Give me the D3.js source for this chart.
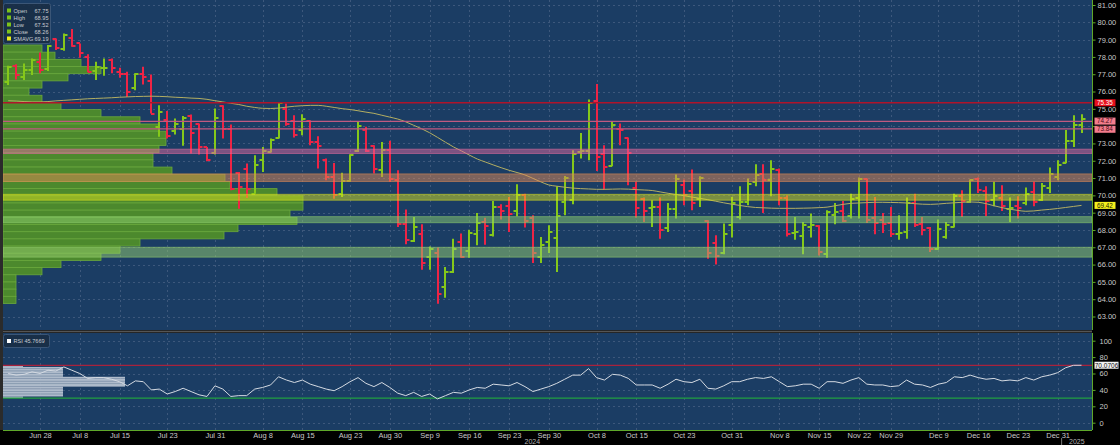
<!DOCTYPE html>
<meta charset="utf-8">
<style>
    body { margin: 0; background: #000; }
    svg { display: block; font-family: "Liberation Sans", Arial, sans-serif; }
    .grid line { stroke: #5a7090; stroke-opacity: 0.55; stroke-dasharray: 2,3; }
    .axis text { fill: #c8c8c8; font-size: 7.5px; }
    .axis path, .axis line { stroke: #5fa82a; }
    .legend text { fill: #c8ccd2; font-size: 5.6px; }
</style>
<svg width="1120" height="445"></svg>
<script src="https://d3js.org/d3.v7.min.js"></script>
<script>

    // date, open, high, low, close
    var ohlc = [
        ["2024-06-24", 76.56, 77.49, 76.37, 77.43], ["2024-06-25", 77.49, 77.57, 76.70, 76.95],
        ["2024-06-26", 76.85, 77.62, 76.66, 77.24], ["2024-06-27", 77.24, 77.91, 76.95, 77.82],
        ["2024-06-28", 77.68, 78.26, 77.05, 77.24], ["2024-07-01", 77.30, 78.69, 77.18, 78.64],
        ["2024-07-02", 79.03, 79.07, 78.40, 78.53], ["2024-07-03", 78.44, 79.36, 78.36, 79.26],
        ["2024-07-05", 79.11, 79.61, 78.59, 78.64], ["2024-07-08", 78.78, 78.78, 77.95, 78.20],
        ["2024-07-09", 77.97, 78.15, 77.11, 77.14], ["2024-07-10", 77.18, 77.72, 76.66, 77.43],
        ["2024-07-11", 77.34, 77.91, 76.91, 77.37], ["2024-07-12", 77.82, 77.91, 77.05, 77.34],
        ["2024-07-15", 77.10, 77.37, 76.79, 76.99], ["2024-07-16", 76.99, 77.14, 75.69, 75.98],
        ["2024-07-17", 76.18, 77.05, 76.08, 76.99], ["2024-07-18", 76.99, 77.43, 76.41, 76.85],
        ["2024-07-19", 76.60, 76.99, 74.73, 74.73], ["2024-07-22", 73.96, 75.21, 73.38, 74.79],
        ["2024-07-23", 74.34, 74.87, 73.29, 73.44], ["2024-07-24", 73.71, 74.44, 73.52, 74.10],
        ["2024-07-25", 73.82, 74.59, 72.86, 74.48], ["2024-07-26", 74.59, 74.67, 72.42, 73.63],
        ["2024-07-29", 74.10, 74.15, 72.36, 72.80], ["2024-07-30", 72.78, 72.80, 71.97, 72.03],
        ["2024-07-31", 72.42, 75.02, 72.36, 74.48], ["2024-08-01", 75.17, 75.21, 73.29, 73.82],
        ["2024-08-02", 73.82, 74.10, 70.30, 70.35], ["2024-08-05", 71.30, 71.35, 69.23, 70.49],
        ["2024-08-06", 71.51, 71.84, 69.85, 70.35], ["2024-08-07", 70.10, 72.32, 70.10, 71.78],
        ["2024-08-08", 72.03, 72.80, 71.35, 72.55], ["2024-08-09", 72.51, 73.29, 72.48, 73.19],
        ["2024-08-12", 73.30, 75.35, 73.29, 75.31], ["2024-08-13", 74.97, 75.31, 74.02, 74.11],
        ["2024-08-14", 74.30, 74.63, 73.34, 73.48], ["2024-08-15", 73.77, 74.69, 73.48, 74.39],
        ["2024-08-16", 74.30, 74.34, 72.90, 73.09], ["2024-08-19", 73.09, 73.42, 71.55, 72.84],
        ["2024-08-20", 72.03, 72.13, 70.87, 71.06], ["2024-08-21", 71.06, 71.87, 69.81, 70.00],
        ["2024-08-22", 70.06, 71.30, 69.91, 70.84], ["2024-08-23", 70.84, 72.38, 70.78, 72.32],
        ["2024-08-26", 72.57, 74.25, 72.51, 74.00], ["2024-08-27", 73.80, 73.96, 72.51, 72.57],
        ["2024-08-28", 72.84, 72.90, 71.26, 71.55], ["2024-08-29", 71.45, 73.09, 71.06, 72.65],
        ["2024-08-30", 72.65, 73.15, 70.78, 70.97], ["2024-09-03", 70.91, 71.45, 68.17, 68.33],
        ["2024-09-04", 68.33, 69.18, 67.17, 67.44], ["2024-09-05", 67.36, 68.75, 67.30, 68.17],
        ["2024-09-06", 67.75, 68.33, 65.70, 66.09], ["2024-09-09", 66.43, 67.05, 65.70, 66.92],
        ["2024-09-10", 66.67, 66.98, 63.74, 64.28], ["2024-09-11", 64.70, 65.86, 64.08, 65.57],
        ["2024-09-12", 65.57, 67.50, 65.51, 66.92], ["2024-09-13", 67.30, 67.79, 66.40, 66.43],
        ["2024-09-16", 66.78, 68.02, 66.40, 67.82], ["2024-09-17", 67.79, 68.98, 67.11, 68.40],
        ["2024-09-18", 68.46, 68.71, 67.15, 68.21], ["2024-09-19", 67.69, 69.67, 67.63, 69.33],
        ["2024-09-20", 69.33, 69.48, 68.60, 69.10], ["2024-09-23", 69.37, 69.91, 67.88, 68.95],
        ["2024-09-24", 69.10, 70.64, 68.79, 70.00], ["2024-09-25", 70.00, 70.10, 68.14, 68.52],
        ["2024-09-26", 68.71, 68.85, 66.09, 66.67], ["2024-09-27", 66.43, 67.59, 66.09, 67.11],
        ["2024-09-30", 67.30, 68.27, 66.67, 67.88], ["2024-10-01", 67.56, 70.53, 65.57, 68.79],
        ["2024-10-02", 69.62, 71.12, 68.85, 71.03], ["2024-10-03", 69.75, 72.61, 69.48, 72.38],
        ["2024-10-04", 72.51, 73.61, 72.13, 72.57], ["2024-10-07", 72.57, 75.54, 72.03, 75.35],
        ["2024-10-08", 75.46, 76.43, 71.41, 72.19], ["2024-10-09", 72.38, 72.90, 70.33, 71.61],
        ["2024-10-10", 71.68, 74.25, 71.68, 74.06], ["2024-10-11", 73.86, 74.15, 72.90, 73.80],
        ["2024-10-14", 73.29, 73.34, 70.58, 72.45], ["2024-10-15", 70.45, 70.78, 68.71, 69.29],
        ["2024-10-16", 69.81, 69.87, 68.46, 69.10], ["2024-10-17", 69.25, 69.72, 68.17, 69.33],
        ["2024-10-18", 69.33, 69.87, 67.50, 67.98], ["2024-10-21", 68.13, 69.56, 67.88, 69.24],
        ["2024-10-22", 69.24, 71.20, 68.66, 70.97], ["2024-10-23", 70.58, 70.91, 69.43, 70.00],
        ["2024-10-24", 70.26, 71.49, 69.14, 69.56], ["2024-10-25", 69.81, 71.10, 69.33, 71.03],
        ["2024-10-28", 68.52, 68.56, 66.34, 66.67], ["2024-10-29", 67.24, 67.69, 66.01, 66.47],
        ["2024-10-30", 66.67, 68.37, 66.59, 67.79], ["2024-10-31", 68.27, 69.91, 67.56, 69.56],
        ["2024-11-01", 68.75, 70.53, 68.60, 69.62], ["2024-11-04", 69.62, 70.97, 69.43, 70.68],
        ["2024-11-05", 70.78, 71.80, 70.53, 71.16], ["2024-11-06", 71.22, 71.80, 68.98, 70.91],
        ["2024-11-07", 70.91, 72.03, 69.95, 71.55], ["2024-11-08", 71.49, 71.55, 69.43, 69.87],
        ["2024-11-11", 69.87, 70.00, 67.63, 67.75], ["2024-11-12", 67.80, 68.75, 67.44, 67.88],
        ["2024-11-13", 67.63, 68.46, 66.59, 68.27], ["2024-11-14", 68.17, 68.95, 67.56, 68.27],
        ["2024-11-15", 68.21, 68.27, 66.53, 66.72], ["2024-11-18", 66.63, 69.14, 66.40, 69.04],
        ["2024-11-19", 68.85, 69.56, 68.33, 69.04], ["2024-11-20", 69.10, 69.67, 68.46, 68.52],
        ["2024-11-21", 68.79, 70.10, 68.66, 69.81], ["2024-11-22", 69.87, 71.03, 68.66, 70.97],
        ["2024-11-25", 70.97, 70.97, 68.40, 68.56], ["2024-11-26", 68.71, 69.91, 67.75, 68.40],
        ["2024-11-27", 68.60, 68.98, 67.82, 68.33], ["2024-11-29", 68.40, 69.33, 67.59, 67.75],
        ["2024-12-02", 67.75, 68.85, 67.44, 67.82], ["2024-12-03", 67.88, 69.87, 67.50, 69.56],
        ["2024-12-04", 69.56, 70.10, 68.17, 68.27], ["2024-12-05", 68.37, 68.75, 67.69, 67.98],
        ["2024-12-06", 68.13, 68.17, 66.72, 66.92], ["2024-12-09", 66.92, 68.60, 66.86, 68.08],
        ["2024-12-10", 67.59, 68.46, 67.50, 68.27], ["2024-12-11", 68.17, 70.10, 68.14, 69.95],
        ["2024-12-12", 69.95, 70.29, 68.75, 69.67], ["2024-12-13", 69.62, 70.91, 69.56, 70.91],
        ["2024-12-16", 70.97, 71.03, 70.14, 70.29], ["2024-12-17", 70.26, 70.53, 68.79, 69.67],
        ["2024-12-18", 69.72, 70.78, 69.37, 69.95], ["2024-12-19", 69.87, 70.58, 69.10, 69.37],
        ["2024-12-20", 69.20, 69.87, 68.46, 69.26], ["2024-12-23", 69.37, 69.95, 68.66, 69.29],
        ["2024-12-24", 69.56, 70.45, 69.43, 70.10], ["2024-12-26", 70.20, 70.78, 69.37, 69.62],
        ["2024-12-27", 69.72, 70.72, 69.68, 70.53], ["2024-12-30", 70.45, 71.61, 70.14, 71.22],
        ["2024-12-31", 71.06, 72.03, 70.87, 71.74], ["2025-01-02", 71.87, 73.77, 71.86, 73.15],
        ["2025-01-03", 73.15, 74.63, 72.80, 74.06], ["2025-01-06", 74.06, 74.69, 73.61, 74.40]
    ];

    var smavg = [
        75.47, 75.45, 75.42, 75.40, 75.40, 75.42, 75.46, 75.49, 75.52, 75.55, 75.58, 75.60, 75.62, 75.64, 75.67, 75.69,
        75.71, 75.72, 75.73, 75.72, 75.70, 75.67, 75.65, 75.62, 75.60, 75.55, 75.47, 75.40, 75.32, 75.25, 75.15, 75.08,
        75.03, 75.02, 75.04, 75.10, 75.15, 75.18, 75.20, 75.20, 75.15, 75.08, 75.01, 74.96, 74.89, 74.81, 74.74, 74.63,
        74.52, 74.41, 74.25, 74.05, 73.85, 73.62, 73.35, 73.07, 72.80, 72.57, 72.33, 72.10, 71.93, 71.76, 71.60, 71.45,
        71.32, 71.18, 70.98, 70.78, 70.60, 70.53, 70.47, 70.42, 70.39, 70.37, 70.35, 70.35, 70.36, 70.37, 70.36, 70.33,
        70.31, 70.28, 70.20, 70.12, 70.05, 69.98, 69.90, 69.83, 69.75, 69.66, 69.57, 69.49, 69.42, 69.35, 69.30, 69.28,
        69.26, 69.25, 69.25, 69.25, 69.26, 69.27, 69.29, 69.32, 69.40, 69.48, 69.54, 69.56, 69.58, 69.60, 69.60, 69.59,
        69.58, 69.56, 69.52, 69.49, 69.48, 69.50, 69.54, 69.57, 69.60, 69.62, 69.60, 69.52, 69.40, 69.29, 69.20, 69.13,
        69.08, 69.10, 69.15, 69.19, 69.24, 69.30, 69.36, 69.42
    ];

    var rsi = [
        60, 58, 59, 62, 60, 64, 63, 68, 64, 60, 54, 55, 55, 53, 50, 45,
        51, 50, 40, 41, 35, 38, 42, 38, 34, 32, 45, 41, 32, 33, 33, 41,
        43, 46, 56, 52, 49, 52, 47, 44, 41, 39, 44, 50, 55, 48, 44, 49,
        43, 36, 33, 37, 32, 35, 29, 33, 37, 36, 40, 43, 42, 47, 46, 45,
        49, 44, 38, 41, 44, 48, 53, 58, 58, 66, 55, 52, 59, 58, 54, 46,
        46, 46, 42, 47, 53, 50, 49, 53, 42, 41, 45, 50, 50, 53, 55, 54,
        56, 50, 44, 45, 47, 47, 42, 50, 50, 48, 52, 55, 47, 46, 46, 44,
        45, 52, 47, 46, 43, 47, 49, 56, 55, 58, 55, 53, 54, 51, 52, 51,
        55, 52, 56, 58, 61, 67, 70, 70.07
    ];

    // volume at price, top bin first
    var profileTop = 78.69, profileStep = 0.415;
    var profileVolume = [39, 52, 78, 98, 65, 39, 26, 39, 58, 98, 137, 156, 163, 163, 156, 150, 150, 169,
        222, 227, 274, 300, 300, 287, 294, 235, 221, 137, 117, 98, 58, 39, 13, 13, 13, 13];

    // RSI distribution, bins of 2 from 30 to 70
    var rsiProfileStart = 30, rsiProfileStep = 2;
    var rsiProfileCount = [20, 60, 60, 60, 60, 60, 60, 122, 122, 122, 122, 122, 122, 60, 60, 60, 60, 60, 60, 20];

    var zones = [[72.42, 72.67], [70.80, 71.24], [69.72, 70.06], [68.42, 68.77], [66.43, 67.00]];
    var zoneColors = ["#e06aa0", "#e08a55", "#d8e020", "#8ed070", "#98d070"];
    var levels = [75.35, 74.27, 73.84];
    var levelColors = ["#b0142a", "#c05a80", "#c05a80"];
    var tags = [75.35, 74.27, 73.84, 69.42];

    var tickDates = ["2024-06-28", "2024-07-08", "2024-07-15", "2024-07-23", "2024-07-31", "2024-08-08",
        "2024-08-15", "2024-08-23", "2024-08-30", "2024-09-09", "2024-09-16", "2024-09-23", "2024-09-30",
        "2024-10-08", "2024-10-15", "2024-10-23", "2024-10-31", "2024-11-08", "2024-11-15", "2024-11-22",
        "2024-11-29", "2024-12-09", "2024-12-16", "2024-12-23", "2024-12-31"];
    var tickLabels = ["Jun 28", "Jul 8", "Jul 15", "Jul 23", "Jul 31", "Aug 8", "Aug 15", "Aug 23", "Aug 30",
        "Sep 9", "Sep 16", "Sep 23", "Sep 30", "Oct 8", "Oct 15", "Oct 23", "Oct 31", "Nov 8", "Nov 15",
        "Nov 22", "Nov 29", "Dec 9", "Dec 16", "Dec 23", "Dec 31"];

    var legendNames = ["Open", "High", "Low", "Close", "SMAVG"];
    var legendValues = ["67.75", "68.95", "67.52", "68.26", "69.19"];

    var svg = d3.select("svg"),
            width = +svg.attr("width"),
            height = +svg.attr("height");

    var left = 3, right = 1092,
        mainTop = 0, mainBottom = 330,
        rsiTop = 333, rsiBottom = 430;

    var x = d3.scalePoint().domain(ohlc.map(function(d) { return d[0]; })).range([8.2, 1081.5]);
    var y = d3.scaleLinear().domain([63, 81]).range([316.5, 5]);
    var yRsi = d3.scaleLinear().domain([0, 100]).range([422.7, 340.7]);
    var xProfile = d3.scaleLinear().domain([0, 300]).range([left, left + 300]);
    var xRsiProfile = d3.scaleLinear().domain([0, 122]).range([left, left + 122]);

    function px(d) { return Math.round(x(d)); }

    svg.append("rect").attr("width", width).attr("height", height).attr("fill", "#000");
    svg.append("rect").attr("x", 0).attr("y", 0).attr("width", left).attr("height", rsiBottom).attr("fill", "#2b2b2b");

    var defs = svg.append("defs");
    defs.append("clipPath").attr("id", "mainClip").append("rect")
        .attr("x", left).attr("y", mainTop).attr("width", right - left).attr("height", mainBottom - mainTop);
    defs.append("clipPath").attr("id", "rsiClip").append("rect")
        .attr("x", left).attr("y", rsiTop).attr("width", right - left).attr("height", rsiBottom - rsiTop);

    svg.append("rect").attr("x", left).attr("y", mainTop).attr("width", right - left)
        .attr("height", mainBottom - mainTop).attr("fill", "#1b3d64");
    svg.append("rect").attr("x", left).attr("y", rsiTop).attr("width", right - left)
        .attr("height", rsiBottom - rsiTop).attr("fill", "#1b3d64");
    svg.append("rect").attr("x", left).attr("y", mainBottom).attr("width", right - left)
        .attr("height", rsiTop - mainBottom).attr("fill", "#262626");
    svg.append("line").attr("x1", left).attr("x2", right).attr("y1", rsiTop - 1.5).attr("y2", rsiTop - 1.5)
        .attr("stroke", "#555").attr("stroke-width", 1);

    // grids
    var main = svg.append("g").attr("clip-path", "url(#mainClip)");
    var grid = main.append("g").attr("class", "grid");
    grid.selectAll("line.h").data(d3.range(63, 82)).enter().append("line").attr("class", "h")
        .attr("x1", left).attr("x2", right)
        .attr("y1", function(d) { return Math.round(y(d)) + 0.5; })
        .attr("y2", function(d) { return Math.round(y(d)) + 0.5; });
    grid.selectAll("line.v").data(tickDates).enter().append("line").attr("class", "v")
        .attr("x1", function(d) { return px(d) + 0.5; }).attr("x2", function(d) { return px(d) + 0.5; })
        .attr("y1", mainTop).attr("y2", mainBottom);

    var rsiG = svg.append("g").attr("clip-path", "url(#rsiClip)");
    var rgrid = rsiG.append("g").attr("class", "grid");
    rgrid.selectAll("line.h").data([0, 20, 40, 60, 80, 100]).enter().append("line").attr("class", "h")
        .attr("x1", left).attr("x2", right)
        .attr("y1", function(d) { return Math.round(yRsi(d)) + 0.5; })
        .attr("y2", function(d) { return Math.round(yRsi(d)) + 0.5; });
    rgrid.selectAll("line.v").data(tickDates).enter().append("line").attr("class", "v")
        .attr("x1", function(d) { return px(d) + 0.5; }).attr("x2", function(d) { return px(d) + 0.5; })
        .attr("y1", rsiTop).attr("y2", rsiBottom);

    // volume profile
    main.append("g").selectAll("rect").data(profileVolume).enter().append("rect")
        .attr("x", left)
        .attr("y", function(d, i) { return y(profileTop - i * profileStep); })
        .attr("width", function(d) { return xProfile(d) - left; })
        .attr("height", function(d, i) { return y(profileTop - (i + 1) * profileStep) - y(profileTop - i * profileStep); })
        .attr("fill", "#4c892d")
        .attr("stroke", "#6aa83c")
        .attr("stroke-width", 0.8);

    // OHLC bars
    main.append("g").selectAll("path").data(ohlc).enter().append("path")
        .attr("d", function(d) {
            var cx = px(d[0]);
            return "M" + cx + "," + y(d[2]) + "V" + y(d[3]) +
                "M" + (cx - 3.5) + "," + Math.round(y(d[1])) + "H" + cx +
                "M" + cx + "," + Math.round(y(d[4])) + "H" + (cx + 3.5);
        })
        .attr("fill", "none")
        .attr("stroke", function(d) { return d[4] >= d[1] ? "#85c81a" : "#ee2445"; })
        .attr("stroke-width", 2);

    // moving average
    main.append("path").datum(smavg)
        .attr("d", d3.line()
            .x(function(d, i) { return x(ohlc[i][0]); })
            .y(function(d) { return y(d); })
            .curve(d3.curveMonotoneX))
        .attr("fill", "none").attr("stroke", "#b3ae62").attr("stroke-width", 1);

    // zones and levels
    var zoneG = main.append("g");
    zones.forEach(function(z, i) {
        zoneG.append("rect").attr("x", left).attr("width", right - left)
            .attr("y", y(z[1])).attr("height", y(z[0]) - y(z[1]))
            .attr("fill", zoneColors[i]).attr("fill-opacity", 0.5);
        zoneG.append("rect").attr("x", left).attr("width", right - left)
            .attr("y", y(z[1])).attr("height", y(z[0]) - y(z[1]))
            .attr("fill", "none").attr("stroke", zoneColors[i]).attr("stroke-opacity", 0.55).attr("stroke-width", 1);
    });
    levels.forEach(function(l, i) {
        zoneG.append("line").attr("x1", left).attr("x2", right)
            .attr("y1", y(l)).attr("y2", y(l))
            .attr("stroke", levelColors[i]).attr("stroke-width", i === 0 ? 1.5 : 1.2);
    });

    // legend
    var legend = svg.append("g").attr("class", "legend");
    legend.append("rect").attr("x", 3.5).attr("y", 3.5).attr("width", 47).attr("height", 40).attr("rx", 2)
        .attr("fill", "#1a2d45").attr("fill-opacity", 0.9).attr("stroke", "#3b5677");
    legendNames.forEach(function(n, i) {
        var ly = 11 + i * 7;
        legend.append("rect").attr("x", 7).attr("y", ly - 2.5).attr("width", 4).attr("height", 4)
            .attr("fill", i === 4 ? "#ecec1c" : "#7dc21a");
        legend.append("text").attr("x", 13.5).attr("y", ly + 1.6).text(n);
        legend.append("text").attr("x", 48.5).attr("y", ly + 1.6).attr("text-anchor", "end").text(legendValues[i]);
    });

    // RSI panel
    rsiG.append("g").selectAll("rect").data(rsiProfileCount).enter().append("rect")
        .attr("x", left)
        .attr("y", function(d, i) { return yRsi(rsiProfileStart + (i + 1) * rsiProfileStep); })
        .attr("width", function(d) { return xRsiProfile(d) - left; })
        .attr("height", function() { return yRsi(0) - yRsi(rsiProfileStep); })
        .attr("fill", "#aebbcb");
    rsiG.append("line").attr("x1", left).attr("x2", right).attr("y1", yRsi(70)).attr("y2", yRsi(70))
        .attr("stroke", "#a8223c").attr("stroke-width", 1.2);
    rsiG.append("line").attr("x1", left).attr("x2", right).attr("y1", yRsi(30)).attr("y2", yRsi(30))
        .attr("stroke", "#22a040").attr("stroke-width", 1.2);
    rsiG.append("path").datum(rsi)
        .attr("d", d3.line()
            .x(function(d, i) { return x(ohlc[i][0]); })
            .y(function(d) { return yRsi(d); }))
        .attr("fill", "none").attr("stroke", "#d4dae2").attr("stroke-width", 1);

    var rl = svg.append("g").attr("class", "legend");
    rl.append("rect").attr("x", 3.5).attr("y", 334.5).attr("width", 46).attr("height", 13).attr("rx", 2)
        .attr("fill", "#1a2d45").attr("fill-opacity", 0.9).attr("stroke", "#3b5677");
    rl.append("rect").attr("x", 7).attr("y", 339).attr("width", 4).attr("height", 4).attr("fill", "#fff");
    rl.append("text").attr("x", 13.5).attr("y", 343.3).text("RSI 45.7669");

    // value tags on price axis, nudged apart so they stack without overlapping
    var tagFill = ["#e8101c", "#f47c8c", "#f47c8c", "#f4f01e"];
    var tagText = ["#ffffff", "#4a0a14", "#4a0a14", "#1a1a00"];
    var tagH = 7, tagGap = 8.2;
    var tagY = tags.map(function(t) { return y(t); });
    for (var k = 1; k < tagY.length; k++) {
        var gap = tagY[k] - tagY[k - 1];
        if (gap < tagGap) {
            var shift = (tagGap - gap) / 2;
            tagY[k - 1] -= shift;
            tagY[k] += shift;
        }
    }

    // axes
    var yAxis = svg.append("g").attr("class", "axis")
        .attr("transform", "translate(" + (right + 0.5) + ",0)")
        .call(d3.axisRight(y).tickValues(d3.range(63, 82)).tickFormat(d3.format(".2f")).tickSize(3).tickPadding(2));
    yAxis.select(".domain").attr("d", "M0," + mainTop + "V" + mainBottom);
    // tick labels hidden behind a value tag are dropped
    yAxis.selectAll(".tick text").filter(function(d) {
        return tagY.some(function(ty) { return Math.abs(ty - y(d)) < 5.5; });
    }).remove();

    var rAxis = svg.append("g").attr("class", "axis")
        .attr("transform", "translate(" + (right + 0.5) + ",0)")
        .call(d3.axisRight(yRsi).tickValues([0, 20, 40, 60, 80, 100]).tickSize(3).tickPadding(4));
    rAxis.select(".domain").attr("d", "M0," + rsiTop + "V" + rsiBottom);

    var xAxis = svg.append("g").attr("class", "axis")
        .attr("transform", "translate(0," + (rsiBottom + 0.5) + ")")
        .call(d3.axisBottom(x).tickValues(tickDates)
            .tickFormat(function(d, i) { return tickLabels[i]; }).tickSize(0).tickPadding(2));
    xAxis.select(".domain").attr("d", "M" + left + ",0H" + right);
    xAxis.selectAll("text").attr("fill", "#b4b4b4");

    var yearBreak = (x("2024-12-31") + x("2025-01-02")) / 2;
    svg.append("line").attr("x1", yearBreak).attr("x2", yearBreak).attr("y1", 438).attr("y2", 445)
        .attr("stroke", "#777").attr("stroke-width", 1);
    svg.append("text").attr("x", (left + yearBreak) / 2).attr("y", 444).attr("text-anchor", "middle")
        .attr("fill", "#b4b4b4").attr("font-size", "7px").text("2024");
    svg.append("text").attr("x", (yearBreak + right) / 2).attr("y", 444).attr("text-anchor", "middle")
        .attr("fill", "#b4b4b4").attr("font-size", "7px").text("2025");

    tags.forEach(function(t, i) {
        svg.append("rect").attr("x", right + 2.5).attr("y", tagY[i] - tagH / 2).attr("width", 21).attr("height", tagH)
            .attr("fill", tagFill[i]);
        svg.append("text").attr("x", right + 13).attr("y", tagY[i] + 2.2).attr("text-anchor", "middle")
            .attr("font-size", "6.3px").attr("fill", tagText[i]).text(d3.format(".2f")(t));
    });
    var lastRsi = rsi[rsi.length - 1];
    svg.append("rect").attr("x", right + 2.5).attr("y", yRsi(lastRsi) - 3.5).attr("width", 24).attr("height", 7)
        .attr("fill", "#f2f2f2");
    svg.append("text").attr("x", right + 14.5).attr("y", yRsi(lastRsi) + 2.3).attr("text-anchor", "middle")
        .attr("font-size", "6.5px").attr("fill", "#111").text("70.0706");

</script>
